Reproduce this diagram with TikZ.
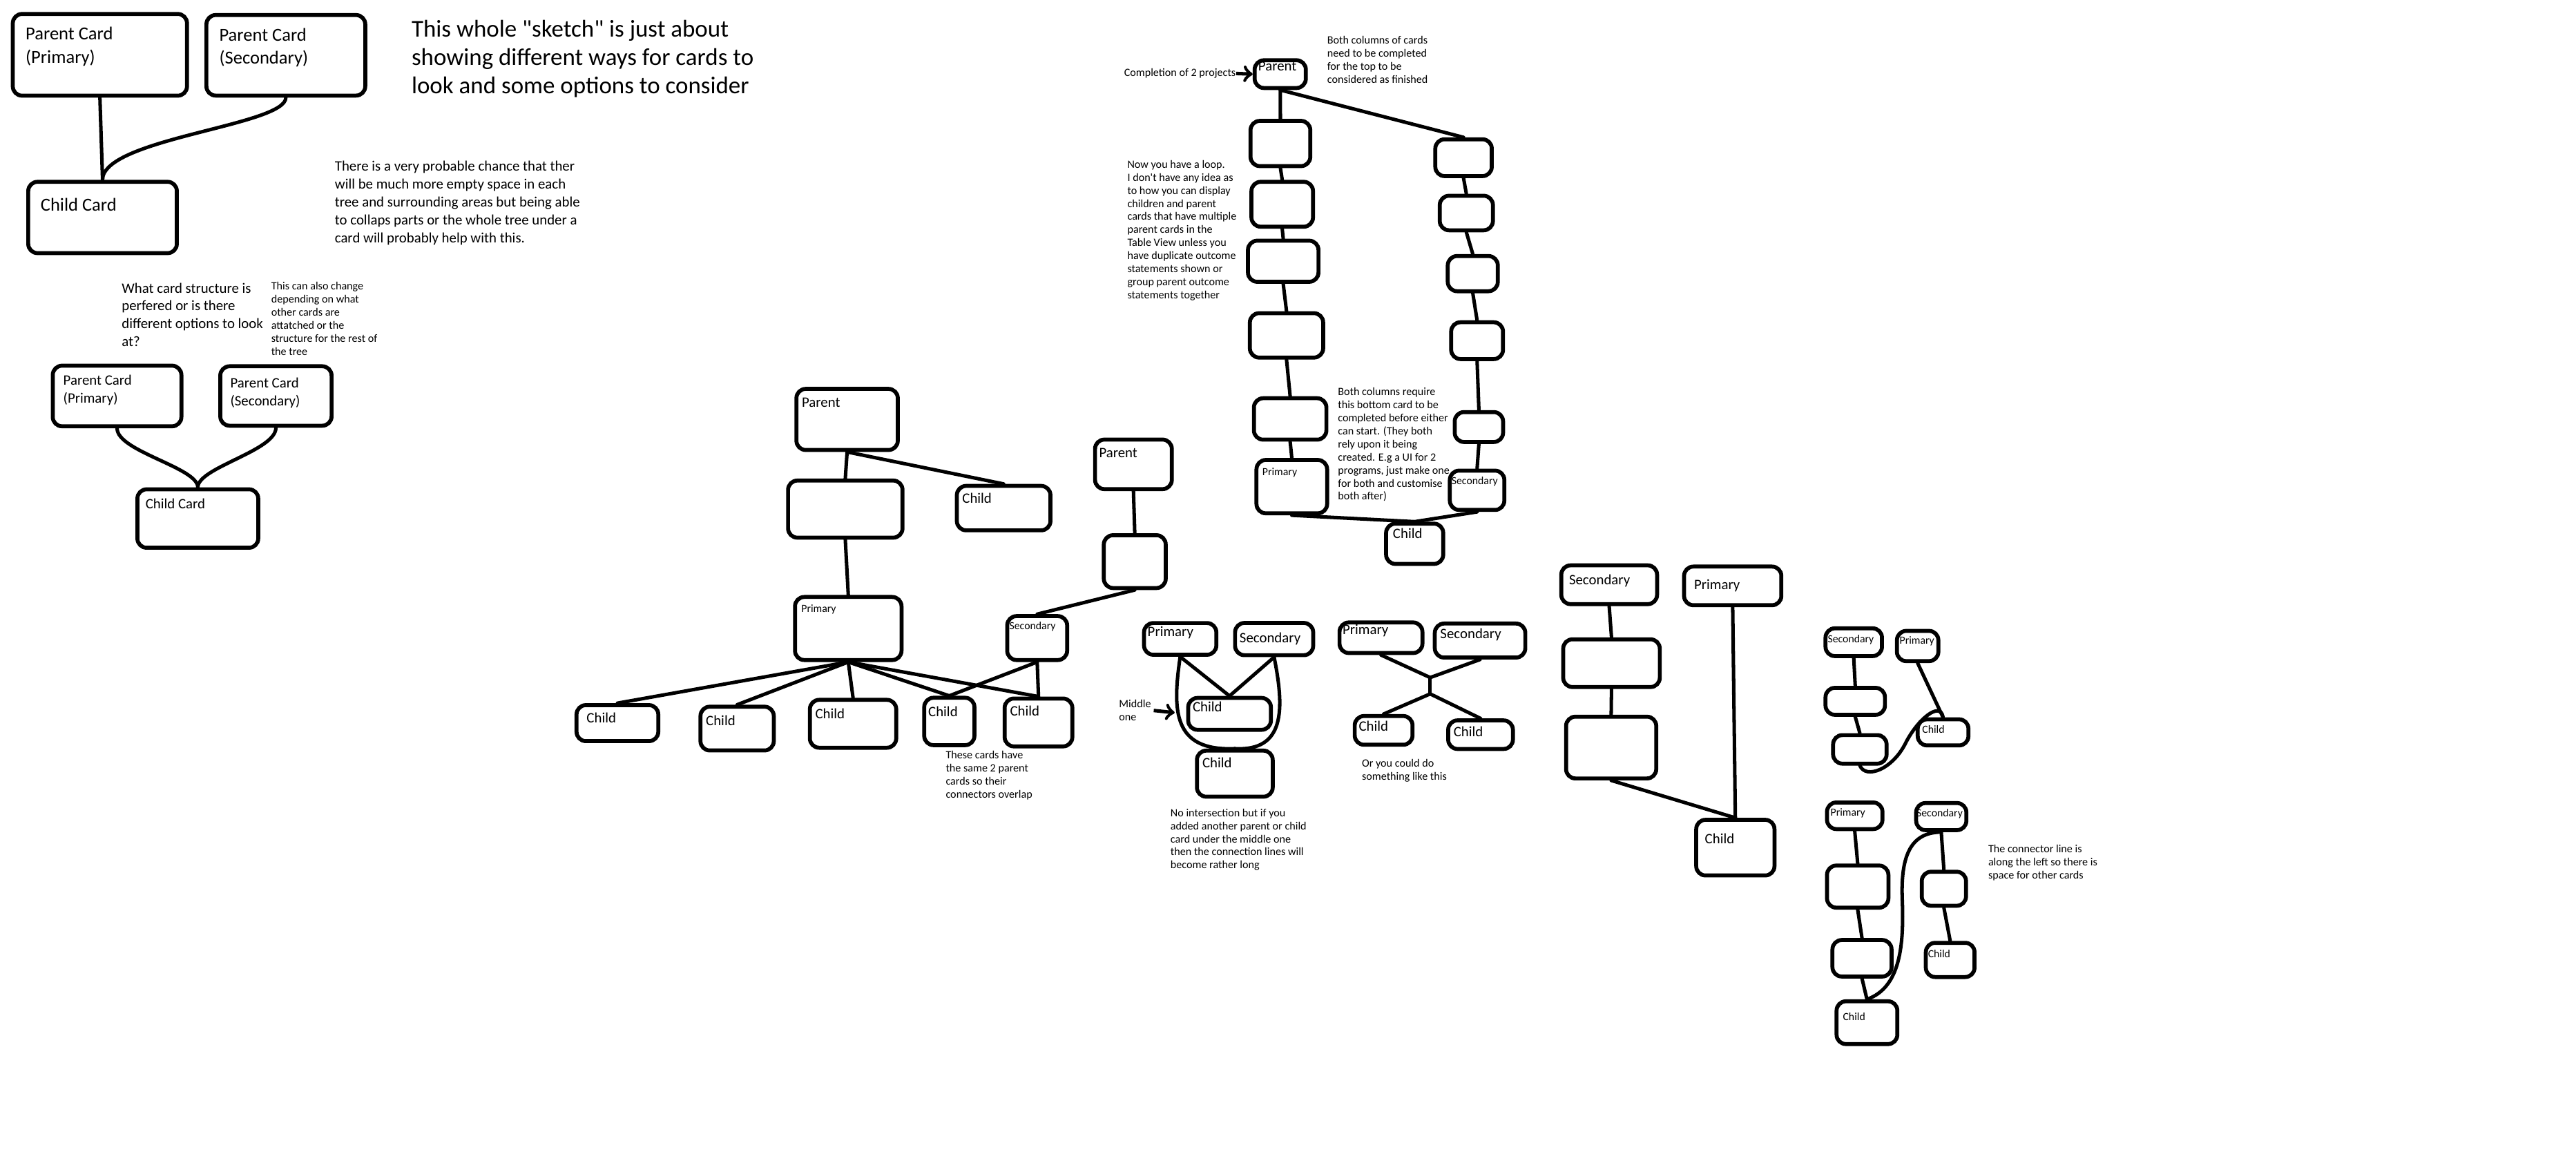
\documentclass[tikz,border=0pt]{standalone}
\usepackage{fontspec}
\setmainfont{Carlito}[Ligatures=TeXOff]
\tikzstyle{card} = [rectangle, draw, rounded corners=4pt, line width=1.7pt]
\tikzstyle{line} = [draw, line width=1.5pt, line cap=round]
\tikzstyle{pointer} = [draw, line width=1.5pt, ->]
\tikzstyle{head} = [anchor=north west, inner sep=0pt, align=left, font=\fontsize{10.4}{12.2}\selectfont]
\tikzstyle{body} = [anchor=north west, inner sep=0pt, align=left, font=\fontsize{6.2}{7.7}\selectfont]
\tikzstyle{note} = [anchor=north west, inner sep=0pt, align=left, font=\fontsize{4.8}{5.62}\selectfont]
\tikzstyle{btag} = [anchor=north west, inner xsep=6.2pt, inner ysep=6.4pt, align=left, font=\fontsize{7.9}{9.9}\selectfont]
\tikzstyle{tag} = [anchor=north west, inner xsep=3pt, inner ysep=3.8pt, align=left, font=\fontsize{6.2}{7.7}\selectfont]
\tikzstyle{stag} = [anchor=north west, inner xsep=1.8pt, inner ysep=3.2pt, font=\fontsize{4.7}{5.6}\selectfont]
\tikzset{sz/.style 2 args={minimum width=#1*0.025cm, minimum height=#2*0.025cm}}

\begin{document}
\begin{tikzpicture}[x=0.025cm, y=-0.025cm]
  \useasboundingbox (0,0) rectangle (1560,697.6);
  %%% Big cards:
  \begin{scope}
    \node[card, sz={105.5}{49.5}, label={[btag]north west:{Parent Card\\(Primary)}}] (pp1) at (60.5,33.2) {};
    \node[card, sz={96.2}{48.8}, label={[btag]north west:{Parent Card\\(Secondary)}}] (ps1) at (173.1,33.5) {};
    \node[card, sz={90}{43.2}, label={[btag, inner ysep=7.8pt, inner xsep=6pt]north west:Child Card}] (cc1) at (62.1,131.7) {};
    \node[head] (intro) at (249,12) {This whole "sketch" is just about\\showing different ways for cards to\\look and some options to consider};
    \node[body] (space) at (202.5,97.3) {There is a very probable chance that ther\\will be much more empty space in each\\tree and surrounding areas but being able\\to collaps parts or the whole tree under a\\card will probably help with this.};
    \path [line] (pp1.south) -- (cc1.north);
    \path [line] (ps1.south) .. controls +(0,17) and +(0,-25) .. (cc1.north);
  \end{scope}
  %%% Curved connectors:
  \begin{scope}
    \node[body] (ask) at (73.5,171) {What card structure is\\perfered or is there\\different options to look\\at?};
    \node[note] (depend) at (164,170.5) {This can also change\\depending on what\\other cards are\\attatched or the\\structure for the rest of\\the tree};
    \node[card, sz={77.9}{36.7}, label={[tag, inner xsep=5.2pt, inner ysep=4.8pt]north west:{Parent Card\\(Primary)}}] (pp2) at (70.9,239.8) {};
    \node[card, sz={67.4}{36}, label={[tag, inner xsep=5pt, inner ysep=5.6pt]north west:{Parent Card\\(Secondary)}}] (ps2) at (167.1,239.8) {};
    \node[card, sz={73.2}{35.4}, label={[tag, inner xsep=4.2pt, inner ysep=4.6pt]north west:Child Card}] (cc2) at (119.8,314) {};
    \path [line] (pp2.south) .. controls +(0,14) and +(0,-12) .. (cc2.north);
    \path [line] (ps2.south) .. controls +(0,14) and +(0,-12) .. (cc2.north);
  \end{scope}
  %%% Shared children:
  \begin{scope}
    \node[card, sz={61.4}{37}, label={[tag, inner ysep=4.6pt]north west:Parent}] (par3) at (513,254) {};
    \node[card, sz={69.3}{34.6}] (mid3) at (511.9,308.3) {};
    \node[card, sz={56.7}{26.9}, label={[tag]north west:Child}] (kid3) at (607.8,307.7) {};
    \node[card, sz={64.5}{38.2}, label={[stag, inner xsep=3.4pt, inner ysep=4pt]north west:Primary}] (pri3) at (513.7,380.6) {};
    \node[card, sz={49.5}{21.8}, label={[tag, inner xsep=5pt]north west:Child}] (c31) at (373.9,437.9) {};
    \node[card, sz={44.4}{26.5}, label={[tag, inner ysep=4.4pt]north west:Child}] (c32) at (446.4,441.2) {};
    \node[card, sz={52.3}{29}, label={[tag, inner ysep=4.4pt]north west:Child}] (c33) at (516.6,438.3) {};
    \node[card, sz={30.4}{28.7}, label={[tag, inner xsep=2.4pt, inner ysep=4.4pt]north west:Child}] (c34) at (574.9,436.9) {};
    \node[card, sz={41}{29}, label={[tag]north west:Child}] (c35) at (628.9,437.5) {};
    \node[card, sz={46.5}{30}, label={[tag, inner xsep=2.4pt, inner ysep=4.4pt]north west:Parent}] (par3b) at (686.4,281.2) {};
    \node[card, sz={37.5}{32}] (mid3b) at (687.2,340.1) {};
    \node[card, sz={36.3}{26.6}, label={[stag, inner xsep=1.6pt]north west:Secondary}] (sec3) at (628.1,386.4) {};
    \node[note] (same) at (572.5,454.5) {These cards have\\the same 2 parent\\cards so their\\connectors overlap};
    \path [line] (par3.south) -- (mid3.north);
    \path [line] (par3.south) -- (kid3.north);
    \path [line] (mid3.south) -- (pri3.north);
    \path [line] (pri3.south) -- (c31.north);
    \path [line] (pri3.south) -- (c32.north);
    \path [line] (pri3.south) -- (c33.north);
    \path [line] (pri3.south) -- (c34.north);
    \path [line] (pri3.south) -- (c35.north);
    \path [line] (par3b.south) -- (mid3b.north);
    \path [line] (mid3b.south) -- (sec3.north);
    \path [line] (sec3.south) -- (c34.north);
    \path [line] (sec3.south) -- (c35.north);
  \end{scope}
  %%% Loop:
  \begin{scope}
    \node[card, sz={31}{16.8}, label={[tag, inner xsep=2.2pt, inner ysep=1.2pt]north west:Parent}] (par4) at (775.3,44.9) {};
    \node[note, anchor=west] (done) at (680.5,44.5) {Completion of 2 projects};
    \node[note] (cols) at (803.5,21.7) {Both columns of cards\\need to be completed\\for the top to be\\considered as finished};
    \node[note] (loop) at (682.5,96.8) {Now you have a loop.\\I don't have any idea as\\to how you can display\\children and parent\\cards that have multiple\\parent cards in the\\Table View unless you\\have duplicate outcome\\statements shown or\\group parent outcome\\statements together};
    \node[card, sz={36.2}{27.4}] (l1) at (775.4,86.9) {};
    \node[card, sz={37.3}{27.2}] (l2) at (776.5,123.7) {};
    \node[card, sz={42.7}{24.9}] (l3) at (777.1,158.2) {};
    \node[card, sz={44.4}{26.9}] (l4) at (779.1,203.1) {};
    \node[card, sz={43.9}{25.1}] (l5) at (781.3,253.7) {};
    \node[card, sz={42.8}{32.3}, label={[stag, inner xsep=3.2pt, inner ysep=4.2pt]north west:Primary}] (pri4) at (782.3,294.7) {};
    \node[card, sz={34.2}{22.3}] (r1) at (886.3,95.5) {};
    \node[card, sz={32.2}{20.9}] (r2) at (888,129) {};
    \node[card, sz={30.3}{21.3}] (r3) at (891.9,165.7) {};
    \node[card, sz={31.4}{22.3}] (r4) at (894.5,206.3) {};
    \node[card, sz={29.3}{18.1}] (r5) at (895.6,258.6) {};
    \node[card, sz={33}{23.8}, label={[stag, inner xsep=1.4pt, inner ysep=3.4pt]north west:Secondary}] (sec4) at (894.5,296.9) {};
    \node[card, sz={34.6}{24.4}, label={[tag, inner xsep=3.6pt, inner ysep=2.8pt]north west:Child}] (kid4) at (856.7,329.3) {};
    \node[note] (need) at (810,234.6) {Both columns require\\this bottom card to be\\completed before either\\can start. (They both\\rely upon it being\\created. E.g a UI for 2\\programs, just make one\\for both and customise\\both after)};
    \path [pointer] (done.east) -- (par4.west);
    \path [line] (par4.south) -- (l1.north);
    \path [line] (par4.south) -- (r1.north);
    \path [line] (l1.south) -- (l2.north) (l2.south) -- (l3.north) (l3.south) -- (l4.north) (l4.south) -- (l5.north) (l5.south) -- (pri4.north);
    \path [line] (r1.south) -- (r2.north) (r2.south) -- (r3.north) (r3.south) -- (r4.north) (r4.south) -- (r5.north) (r5.south) -- (sec4.north);
    \path [line] (pri4.south) -- (kid4.north);
    \path [line] (sec4.south) -- (kid4.north);
  \end{scope}
  %%% Middle one:
  \begin{scope}
    \node[card, sz={43.8}{19.2}, label={[tag, inner xsep=2.2pt, inner ysep=2.2pt]north west:Primary}] (pri5) at (714.7,386.9) {};
    \node[card, sz={47.3}{19.5}, label={[tag, inner xsep=2.6pt, inner ysep=4.8pt]north west:Secondary}] (sec5) at (771.6,387) {};
    \node[card, sz={50.1}{19.3}, label={[tag, inner xsep=2.6pt, inner ysep=2.2pt]north west:Child}] (cm5) at (744.6,432.3) {};
    \node[card, sz={45.9}{27.9}, label={[tag]north west:Child}] (cb5) at (747.8,468.5) {};
    \node[note] (midone) at (677.4,423.5) {Middle\\one};
    \node[note] (long) at (708.6,489.5) {No intersection but if you\\added another parent or child\\card under the middle one\\then the connection lines will\\become rather long};
    \path [pointer] (midone.east) -- (cm5.west) [shorten >=5pt, shorten <=1pt];
    \path [line] (pri5.south) -- (cm5.north);
    \path [line] (sec5.south) -- (cm5.north);
    \path [line] (pri5.south) .. controls (710,430) and (710,455) .. (cb5.north);
    \path [line] (sec5.south) .. controls (778,430) and (778,455) .. (cb5.north);
  \end{scope}
  %%% Junction:
  \begin{scope}
    \node[card, sz={50.2}{18.5}, label={[tag, inner xsep=2pt, inner ysep=1.6pt]north west:Primary}] (pri6) at (836.3,386.2) {};
    \node[card, sz={54.8}{20.6}, label={[tag, inner xsep=3pt, inner ysep=2.8pt]north west:Secondary}] (sec6) at (896.3,387.9) {};
    \node[card, sz={35}{17.4}, label={[tag, inner xsep=2.4pt, inner ysep=2.8pt]north west:Child}] (c6a) at (837.9,442.3) {};
    \node[card, sz={39.2}{17.3}, label={[tag, inner xsep=3pt, inner ysep=3.2pt]north west:Child}] (c6b) at (896.6,444.9) {};
    \coordinate (j1) at (866.1,410.3);
    \coordinate (j2) at (866.1,420.2);
    \node[note] (instead) at (824.5,459.5) {Or you could do\\something like this};
    \path [line] (pri6.south) -- (j1);
    \path [line] (sec6.south) -- (j1);
    \path [line] (j1) -- (j2);
    \path [line] (j2) -- (c6a.north);
    \path [line] (j2) -- (c6b.north);
  \end{scope}
  %%% Long connector:
  \begin{scope}
    \node[card, sz={58}{23.5}, label={[tag, inner xsep=4pt, inner ysep=4.6pt]north west:Secondary}] (sec7) at (974.5,354.1) {};
    \node[card, sz={58.9}{23.4}, label={[tag, inner xsep=5pt, inner ysep=6.2pt]north west:Primary}] (pri7) at (1049.3,354.8) {};
    \node[card, sz={58.5}{28.9}] (s71) at (975.9,401.6) {};
    \node[card, sz={54.6}{37.4}] (s72) at (975.7,452.7) {};
    \node[card, sz={47.4}{33.7}, label={[tag, inner xsep=4.4pt, inner ysep=6.6pt]north west:Child}] (kid7) at (1050.9,513.3) {};
    \path [line] (sec7.south) -- (s71.north);
    \path [line] (s71.south) -- (s72.north);
    \path [line] (s72.south) -- (kid7.north);
    \path [line] (pri7.south) -- (kid7.north);
  \end{scope}
  %%% Wavy connector:
  \begin{scope}
    \node[card, sz={34.2}{16.8}, label={[stag, inner xsep=1.6pt, inner ysep=3.6pt]north west:Secondary}] (sec8) at (1122.6,388.9) {};
    \node[card, sz={25.1}{18.3}, label={[stag, inner ysep=3.2pt]north west:Primary}] (pri8) at (1161.3,391.2) {};
    \node[card, sz={36}{16.3}] (s81) at (1123.5,424.7) {};
    \node[card, sz={32.4}{17.3}] (s82) at (1126.3,453.8) {};
    \node[card, sz={30.7}{15.8}, label={[stag, inner xsep=2.6pt, inner ysep=3.4pt]north west:Child}] (kid8) at (1176.7,443.5) {};
    \path [line] (sec8.south) -- (s81.north);
    \path [line] (s81.south) -- (s82.north);
    \path [line] (pri8.south) -- (kid8.north);
    \path [line] (s82.south) .. controls (1130,472) and (1146,466) .. (1154,450) .. controls (1161,436) and (1175,424) .. (kid8.north);
  \end{scope}
  %%% Connector along the left:
  \begin{scope}
    \node[card, sz={33.6}{16.1}, label={[stag, inner xsep=2.2pt]north west:Primary}] (pri9) at (1123.2,494) {};
    \node[card, sz={30.4}{16.4}, label={[stag, inner xsep=0.8pt, inner ysep=3.4pt]north west:Secondary}] (sec9) at (1175.6,494.5) {};
    \node[card, sz={37.2}{25.5}] (s91) at (1125,536.9) {};
    \node[card, sz={35.8}{22.1}] (s92) at (1127.6,580.3) {};
    \node[card, sz={36.8}{25.9}, label={[stag, inner xsep=3.4pt, inner ysep=5.6pt]north west:Child}] (kid9) at (1130.6,619.3) {};
    \node[card, sz={26.8}{20.6}] (s93) at (1177.2,538.2) {};
    \node[card, sz={29.5}{20.7}, label={[stag, inner xsep=1.6pt, inner ysep=3.6pt]north west:Child}] (kid9b) at (1181,581.3) {};
    \node[note] (side) at (1203.8,511.5) {The connector line is\\along the left so there is\\space for other cards};
    \path [line] (pri9.south) -- (s91.north);
    \path [line] (s91.south) -- (s92.north);
    \path [line] (s92.south) -- (kid9.north);
    \path [line] (sec9.south) -- (s93.north);
    \path [line] (s93.south) -- (kid9b.north);
    \path [line] (sec9.south) .. controls (1156,504) and (1151,520) .. (1152,545) .. controls (1153,572) and (1151,598) .. (kid9.north);
  \end{scope}
\end{tikzpicture}
\end{document}
